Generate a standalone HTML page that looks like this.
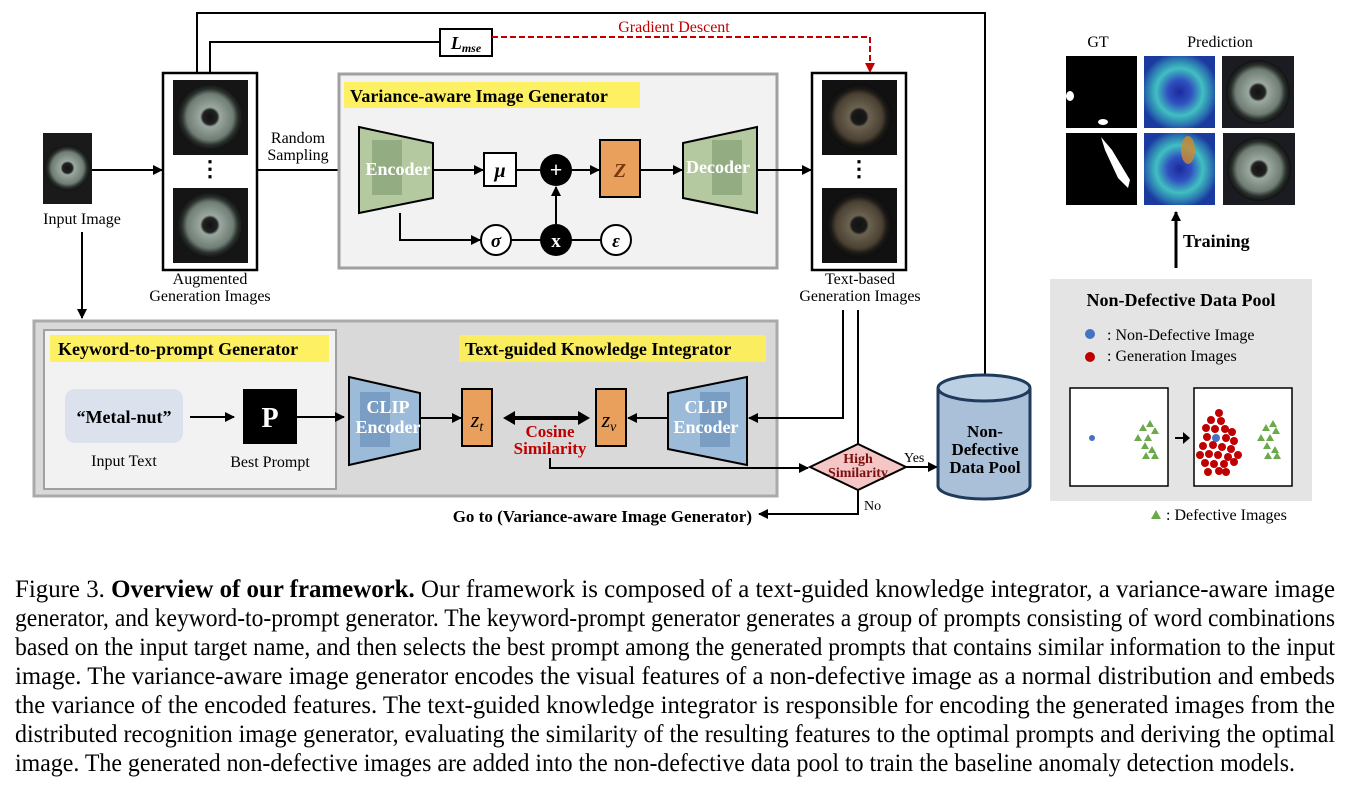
<!DOCTYPE html>
<html><head><meta charset="utf-8"><style>
html,body{margin:0;padding:0;background:#fff}
svg{display:block}
text{font-family:"Liberation Serif",serif}
</style></head><body>
<svg width="1359" height="795" viewBox="0 0 1359 795" xmlns="http://www.w3.org/2000/svg">
<defs>
<marker id="a" markerWidth="10" markerHeight="10" refX="9" refY="5" orient="auto" markerUnits="userSpaceOnUse"><path d="M0,0 L10,5 L0,10 z" fill="#000"/></marker>
<marker id="ar" markerWidth="10" markerHeight="10" refX="9" refY="5" orient="auto" markerUnits="userSpaceOnUse"><path d="M0,0 L10,5 L0,10 z" fill="#c00000"/></marker>
<radialGradient id="nut" cx="50%" cy="50%" r="50%"><stop offset="0" stop-color="#111"/><stop offset="0.22" stop-color="#222"/><stop offset="0.3" stop-color="#9aa8a0"/><stop offset="0.7" stop-color="#6f7d75"/><stop offset="0.85" stop-color="#2a302c"/><stop offset="1" stop-color="#111"/></radialGradient>
<radialGradient id="nut2" cx="50%" cy="50%" r="50%"><stop offset="0" stop-color="#111"/><stop offset="0.22" stop-color="#1a1a1a"/><stop offset="0.3" stop-color="#6c6250"/><stop offset="0.7" stop-color="#4c4234"/><stop offset="0.85" stop-color="#1c1a16"/><stop offset="1" stop-color="#0d0d0d"/></radialGradient>
<radialGradient id="heat" cx="50%" cy="50%" r="55%"><stop offset="0" stop-color="#1a2a9a"/><stop offset="0.3" stop-color="#3050c0"/><stop offset="0.6" stop-color="#40c0c0"/><stop offset="0.85" stop-color="#2a70b0"/><stop offset="1" stop-color="#1a3aa0"/></radialGradient>
</defs>

<polyline points="197,73 197,13 985,13 985,384" fill="none" stroke="#000" stroke-width="2" marker-end="url(#a)"/>
<polyline points="210,73 210,42 440,42" fill="none" stroke="#000" stroke-width="2"/>
<rect x="440" y="29" width="52" height="27" fill="#fff" stroke="#000" stroke-width="2"/>
<text x="466" y="49" font-size="18" font-weight="bold" font-style="italic" text-anchor="middle">L<tspan font-size="12" dy="3">mse</tspan></text>
<polyline points="492,37 870,37 870,72" fill="none" stroke="#c00000" stroke-width="2" stroke-dasharray="6,3" marker-end="url(#ar)"/>
<text x="674" y="32" font-size="16" fill="#c00000" text-anchor="middle">Gradient Descent</text>

<rect x="43" y="133" width="49" height="71" fill="#1a1a1a"/>
<circle cx="67.5" cy="168" r="23" fill="url(#nut)"/>
<text x="82" y="224" font-size="16" text-anchor="middle">Input Image</text>
<line x1="92" y1="170" x2="162" y2="170" stroke="#000" stroke-width="2" marker-end="url(#a)"/>
<line x1="82" y1="232" x2="82" y2="318" stroke="#000" stroke-width="2" marker-end="url(#a)"/>

<rect x="163" y="73" width="94" height="197" fill="#fff" stroke="#000" stroke-width="2.5"/>
<rect x="173" y="80" width="75" height="75" fill="#151515"/><circle cx="210" cy="117" r="33" fill="url(#nut)"/>
<rect x="173" y="188" width="75" height="75" fill="#151515"/><circle cx="210" cy="225" r="33" fill="url(#nut)"/>
<text x="210" y="176" font-size="22" font-weight="bold" text-anchor="middle">⋮</text>
<text x="210" y="284" font-size="16" text-anchor="middle">Augmented</text>
<text x="210" y="301" font-size="16" text-anchor="middle">Generation Images</text>
<text x="298" y="143" font-size="16" text-anchor="middle">Random</text>
<text x="298" y="160" font-size="16" text-anchor="middle">Sampling</text>
<line x1="257" y1="170" x2="356" y2="170" stroke="#000" stroke-width="2" marker-end="url(#a)"/>

<rect x="339" y="74" width="438" height="194" fill="#f2f2f2" stroke="#a0a0a0" stroke-width="3"/>
<rect x="344" y="82" width="296" height="26" fill="#fff04a" opacity="0.85"/>
<text x="350" y="102" font-size="18" font-weight="bold">Variance-aware Image Generator</text>
<polygon points="359,127 433,143 433,198 359,213" fill="#b5c9a0" stroke="#000" stroke-width="2"/>
<rect x="372" y="140" width="30" height="55" fill="#7f9a6e" opacity="0.6"/>
<text x="398" y="175" font-size="18" font-weight="bold" fill="#fff" text-anchor="middle">Encoder</text>
<line x1="433" y1="170" x2="483" y2="170" stroke="#000" stroke-width="2" marker-end="url(#a)"/>
<rect x="484" y="153" width="32" height="33" fill="#fff" stroke="#000" stroke-width="2"/>
<text x="500" y="177" font-size="20" font-weight="bold" font-style="italic" text-anchor="middle">μ</text>
<line x1="516" y1="170" x2="540" y2="170" stroke="#000" stroke-width="2"/>
<circle cx="556" cy="170" r="16" fill="#000"/>
<text x="556" y="177" font-size="22" font-weight="bold" fill="#fff" text-anchor="middle">+</text>
<line x1="572" y1="170" x2="599" y2="170" stroke="#000" stroke-width="2" marker-end="url(#a)"/>
<rect x="600" y="140" width="40" height="57" fill="#e9a05c" stroke="#000" stroke-width="2"/>
<text x="620" y="177" font-size="20" font-weight="bold" font-style="italic" fill="#7a3a10" text-anchor="middle">Z</text>
<line x1="640" y1="170" x2="682" y2="170" stroke="#000" stroke-width="2" marker-end="url(#a)"/>
<polygon points="683,143 757,127 757,213 683,198" fill="#b5c9a0" stroke="#000" stroke-width="2"/>
<rect x="712" y="140" width="30" height="55" fill="#7f9a6e" opacity="0.6"/>
<text x="718" y="173" font-size="18" font-weight="bold" fill="#fff" text-anchor="middle">Decoder</text>
<line x1="757" y1="170" x2="811" y2="170" stroke="#000" stroke-width="2" marker-end="url(#a)"/>
<polyline points="400,213 400,240 480,240" fill="none" stroke="#000" stroke-width="2" marker-end="url(#a)"/>
<circle cx="496" cy="240" r="15" fill="#fff" stroke="#000" stroke-width="2"/>
<text x="496" y="247" font-size="19" font-weight="bold" font-style="italic" text-anchor="middle">σ</text>
<line x1="511" y1="240" x2="601" y2="240" stroke="#000" stroke-width="2"/>
<circle cx="556" cy="240" r="16" fill="#000"/>
<text x="556" y="247" font-size="19" font-weight="bold" fill="#fff" text-anchor="middle">x</text>
<circle cx="616" cy="240" r="15" fill="#fff" stroke="#000" stroke-width="2"/>
<text x="616" y="247" font-size="19" font-weight="bold" font-style="italic" text-anchor="middle">ε</text>
<line x1="556" y1="224" x2="556" y2="187" stroke="#000" stroke-width="2" marker-end="url(#a)"/>

<rect x="812" y="73" width="94" height="197" fill="#fff" stroke="#000" stroke-width="2.5"/>
<rect x="822" y="80" width="75" height="75" fill="#111"/><circle cx="859" cy="117" r="33" fill="url(#nut2)"/>
<rect x="822" y="188" width="75" height="75" fill="#111"/><circle cx="859" cy="225" r="33" fill="url(#nut2)"/>
<text x="859" y="176" font-size="22" font-weight="bold" text-anchor="middle">⋮</text>
<text x="860" y="284" font-size="16" text-anchor="middle">Text-based</text>
<text x="860" y="301" font-size="16" text-anchor="middle">Generation Images</text>

<rect x="34" y="321" width="743" height="175" fill="#d9d9d9" stroke="#aaa" stroke-width="3"/>
<rect x="44" y="330" width="292" height="159" fill="#f2f2f2" stroke="#a0a0a0" stroke-width="2"/>
<rect x="50" y="335" width="279" height="27" fill="#fff04a" opacity="0.85"/>
<text x="58" y="355" font-size="18" font-weight="bold">Keyword-to-prompt Generator</text>
<rect x="459" y="335" width="307" height="27" fill="#fff04a" opacity="0.85"/>
<text x="465" y="355" font-size="18" font-weight="bold">Text-guided Knowledge Integrator</text>
<rect x="65" y="389" width="118" height="54" rx="10" fill="#dbe2ee"/>
<text x="124" y="423" font-size="18" font-weight="bold" text-anchor="middle">“Metal-nut”</text>
<text x="124" y="466" font-size="16" text-anchor="middle">Input Text</text>
<line x1="190" y1="417" x2="234" y2="417" stroke="#000" stroke-width="2" marker-end="url(#a)"/>
<rect x="243" y="389" width="54" height="55" fill="#000"/>
<text x="270" y="427" font-size="28" font-weight="bold" fill="#fff" text-anchor="middle">P</text>
<text x="270" y="467" font-size="16" text-anchor="middle">Best Prompt</text>
<line x1="297" y1="417" x2="344" y2="417" stroke="#000" stroke-width="2" marker-end="url(#a)"/>
<polygon points="349,377 420,393 420,449 349,465" fill="#9cbbd9" stroke="#000" stroke-width="2"/>
<rect x="360" y="392" width="30" height="55" fill="#5f85b0" opacity="0.55"/>
<text x="388" y="413" font-size="18" font-weight="bold" fill="#fff" text-anchor="middle">CLIP</text>
<text x="388" y="433" font-size="18" font-weight="bold" fill="#fff" text-anchor="middle">Encoder</text>
<line x1="420" y1="418" x2="461" y2="418" stroke="#000" stroke-width="2" marker-end="url(#a)"/>
<rect x="462" y="389" width="30" height="57" fill="#e9a05c" stroke="#000" stroke-width="2"/>
<text x="477" y="427" font-size="22" font-style="italic" text-anchor="middle">z<tspan font-size="14" dy="4">t</tspan></text>
<line x1="508" y1="418" x2="584" y2="418" stroke="#000" stroke-width="4"/>
<path d="M503,418 L515,411 L515,425 z M590,418 L578,411 L578,425 z" fill="#000"/>
<text x="550" y="437" font-size="17" font-weight="bold" fill="#c00000" text-anchor="middle">Cosine</text>
<text x="550" y="454" font-size="17" font-weight="bold" fill="#c00000" text-anchor="middle">Similarity</text>
<rect x="596" y="389" width="30" height="57" fill="#e9a05c" stroke="#000" stroke-width="2"/>
<text x="609" y="427" font-size="22" font-style="italic" text-anchor="middle">z<tspan font-size="14" dy="4">v</tspan></text>
<line x1="667" y1="418" x2="628" y2="418" stroke="#000" stroke-width="2" marker-end="url(#a)"/>
<polygon points="668,393 747,377 747,465 668,449" fill="#9cbbd9" stroke="#000" stroke-width="2"/>
<rect x="700" y="392" width="30" height="55" fill="#5f85b0" opacity="0.55"/>
<text x="706" y="413" font-size="18" font-weight="bold" fill="#fff" text-anchor="middle">CLIP</text>
<text x="706" y="433" font-size="18" font-weight="bold" fill="#fff" text-anchor="middle">Encoder</text>

<polyline points="843,310 843,418 749,418" fill="none" stroke="#000" stroke-width="2" marker-end="url(#a)"/>
<line x1="858" y1="310" x2="858" y2="445" stroke="#000" stroke-width="2"/>
<polyline points="550,458 550,468 808,468" fill="none" stroke="#000" stroke-width="2" marker-end="url(#a)"/>
<polygon points="810,467 858,444 906,467 858,490" fill="#f5c6c6" stroke="#000" stroke-width="2"/>
<text x="858" y="463" font-size="14" font-weight="bold" fill="#7a1010" text-anchor="middle">High</text>
<text x="858" y="477" font-size="14" font-weight="bold" fill="#7a1010" text-anchor="middle">Similarity</text>
<line x1="906" y1="467" x2="937" y2="467" stroke="#000" stroke-width="2" marker-end="url(#a)"/>
<text x="904" y="462" font-size="14">Yes</text>
<polyline points="858,490 858,514 759,514" fill="none" stroke="#000" stroke-width="2" marker-end="url(#a)"/>
<text x="864" y="510" font-size="14">No</text>
<text x="752" y="522" font-size="17" font-weight="bold" text-anchor="end">Go to (Variance-aware Image Generator)</text>

<path d="M938,388 L938,486 A46,13 0 0 0 1030,486 L1030,388" fill="#a9c0d8" stroke="#1f3a5a" stroke-width="3"/>
<ellipse cx="984" cy="388" rx="46" ry="13" fill="#bcd0e4" stroke="#1f3a5a" stroke-width="3"/>
<text x="985" y="437" font-size="17" font-weight="bold" text-anchor="middle">Non-</text>
<text x="985" y="455" font-size="17" font-weight="bold" text-anchor="middle">Defective</text>
<text x="985" y="473" font-size="17" font-weight="bold" text-anchor="middle">Data Pool</text>

<text x="1098" y="47" font-size="16" text-anchor="middle">GT</text>
<text x="1220" y="47" font-size="16" text-anchor="middle">Prediction</text>
<rect x="1066" y="56" width="71" height="72" fill="#000"/>
<ellipse cx="1070" cy="96" rx="4" ry="5" fill="#fff"/><ellipse cx="1103" cy="122" rx="5" ry="3" fill="#fff"/>
<rect x="1066" y="133" width="71" height="72" fill="#000"/>
<path d="M1101,137 L1112,150 L1130,180 L1128,188 L1118,178 L1105,150 z" fill="#fff"/>
<rect x="1144" y="56" width="71" height="72" fill="url(#heat)"/>
<rect x="1144" y="133" width="71" height="72" fill="url(#heat)"/>
<ellipse cx="1188" cy="150" rx="7" ry="14" fill="#d08a30" opacity="0.8"/>
<rect x="1222" y="56" width="72" height="72" fill="#1a1c22"/><circle cx="1258" cy="92" r="32" fill="url(#nut)"/>
<rect x="1223" y="133" width="72" height="72" fill="#1a1c22"/><circle cx="1259" cy="169" r="32" fill="url(#nut)"/>
<line x1="1176" y1="268" x2="1176" y2="212" stroke="#000" stroke-width="3" marker-end="url(#a)"/>
<text x="1183" y="247" font-size="18" font-weight="bold">Training</text>

<rect x="1050" y="279" width="262" height="222" fill="#e4e4e4"/>
<text x="1181" y="306" font-size="18" font-weight="bold" text-anchor="middle">Non-Defective Data Pool</text>
<circle cx="1090" cy="334" r="5" fill="#4472c4"/>
<text x="1107" y="340" font-size="16">: Non-Defective Image</text>
<circle cx="1090" cy="357" r="5" fill="#c00000"/>
<text x="1107" y="361" font-size="16">: Generation Images</text>
<rect x="1070" y="388" width="98" height="98" fill="#fff" stroke="#000" stroke-width="1.5"/>
<rect x="1194" y="388" width="98" height="98" fill="#fff" stroke="#000" stroke-width="1.5"/>
<circle cx="1092" cy="438" r="3" fill="#4472c4"/>
<g fill="#6aaa4a">
<path d="M1143,424l4,7h-8z M1150,420l4,7h-8z M1155,427l4,7h-8z M1138,434l4,7h-8z M1148,434l4,7h-8z M1145,442l4,7h-8z M1152,446l4,7h-8z M1146,452l4,7h-8z M1155,452l4,7h-8z"/>
<path d="M1266,424l4,7h-8z M1273,420l4,7h-8z M1276,427l4,7h-8z M1261,434l4,7h-8z M1270,434l4,7h-8z M1267,442l4,7h-8z M1275,446l4,7h-8z M1268,452l4,7h-8z M1277,452l4,7h-8z"/>
</g>
<path d="M1175,437 L1183,437 L1183,432 L1190,438 L1183,444 L1183,439 L1175,439z" fill="#000"/>
<g fill="#c00000">
<circle cx="1219" cy="413" r="4"/><circle cx="1211" cy="420" r="4"/><circle cx="1221" cy="421" r="4"/>
<circle cx="1206" cy="428" r="4"/><circle cx="1215" cy="429" r="4"/><circle cx="1225" cy="429" r="4"/><circle cx="1232" cy="432" r="4"/>
<circle cx="1207" cy="437" r="4"/><circle cx="1226" cy="438" r="4"/><circle cx="1234" cy="441" r="4"/>
<circle cx="1203" cy="446" r="4"/><circle cx="1213" cy="445" r="4"/><circle cx="1222" cy="447" r="4"/><circle cx="1231" cy="449" r="4"/>
<circle cx="1209" cy="454" r="4"/><circle cx="1218" cy="455" r="4"/><circle cx="1228" cy="457" r="4"/><circle cx="1238" cy="455" r="4"/><circle cx="1200" cy="455" r="4"/>
<circle cx="1205" cy="463" r="4"/><circle cx="1214" cy="464" r="4"/><circle cx="1224" cy="464" r="4"/><circle cx="1234" cy="462" r="4"/>
<circle cx="1208" cy="472" r="4"/><circle cx="1219" cy="471" r="4"/><circle cx="1226" cy="472" r="4"/>
</g>
<circle cx="1216" cy="438" r="4" fill="#4472c4"/>
<path d="M1156,510l5,9h-10z" fill="#6aaa4a"/>
<text x="1166" y="520" font-size="16">: Defective Images</text>

<g font-size="25">
<text x="15" y="597" textLength="1320" lengthAdjust="spacingAndGlyphs">Figure 3. <tspan font-weight="bold">Overview of our framework.</tspan> Our framework is composed of a text-guided knowledge integrator, a variance-aware image</text>
<text x="15" y="626" textLength="1320" lengthAdjust="spacingAndGlyphs">generator, and keyword-to-prompt generator. The keyword-prompt generator generates a group of prompts consisting of word combinations</text>
<text x="15" y="655" textLength="1320" lengthAdjust="spacingAndGlyphs">based on the input target name, and then selects the best prompt among the generated prompts that contains similar information to the input</text>
<text x="15" y="684" textLength="1320" lengthAdjust="spacingAndGlyphs">image. The variance-aware image generator encodes the visual features of a non-defective image as a normal distribution and embeds</text>
<text x="15" y="713" textLength="1320" lengthAdjust="spacingAndGlyphs">the variance of the encoded features. The text-guided knowledge integrator is responsible for encoding the generated images from the</text>
<text x="15" y="742" textLength="1320" lengthAdjust="spacingAndGlyphs">distributed recognition image generator, evaluating the similarity of the resulting features to the optimal prompts and deriving the optimal</text>
<text x="15" y="771" textLength="1280" lengthAdjust="spacingAndGlyphs">image. The generated non-defective images are added into the non-defective data pool to train the baseline anomaly detection models.</text>
</g>
</svg>
</body></html>
